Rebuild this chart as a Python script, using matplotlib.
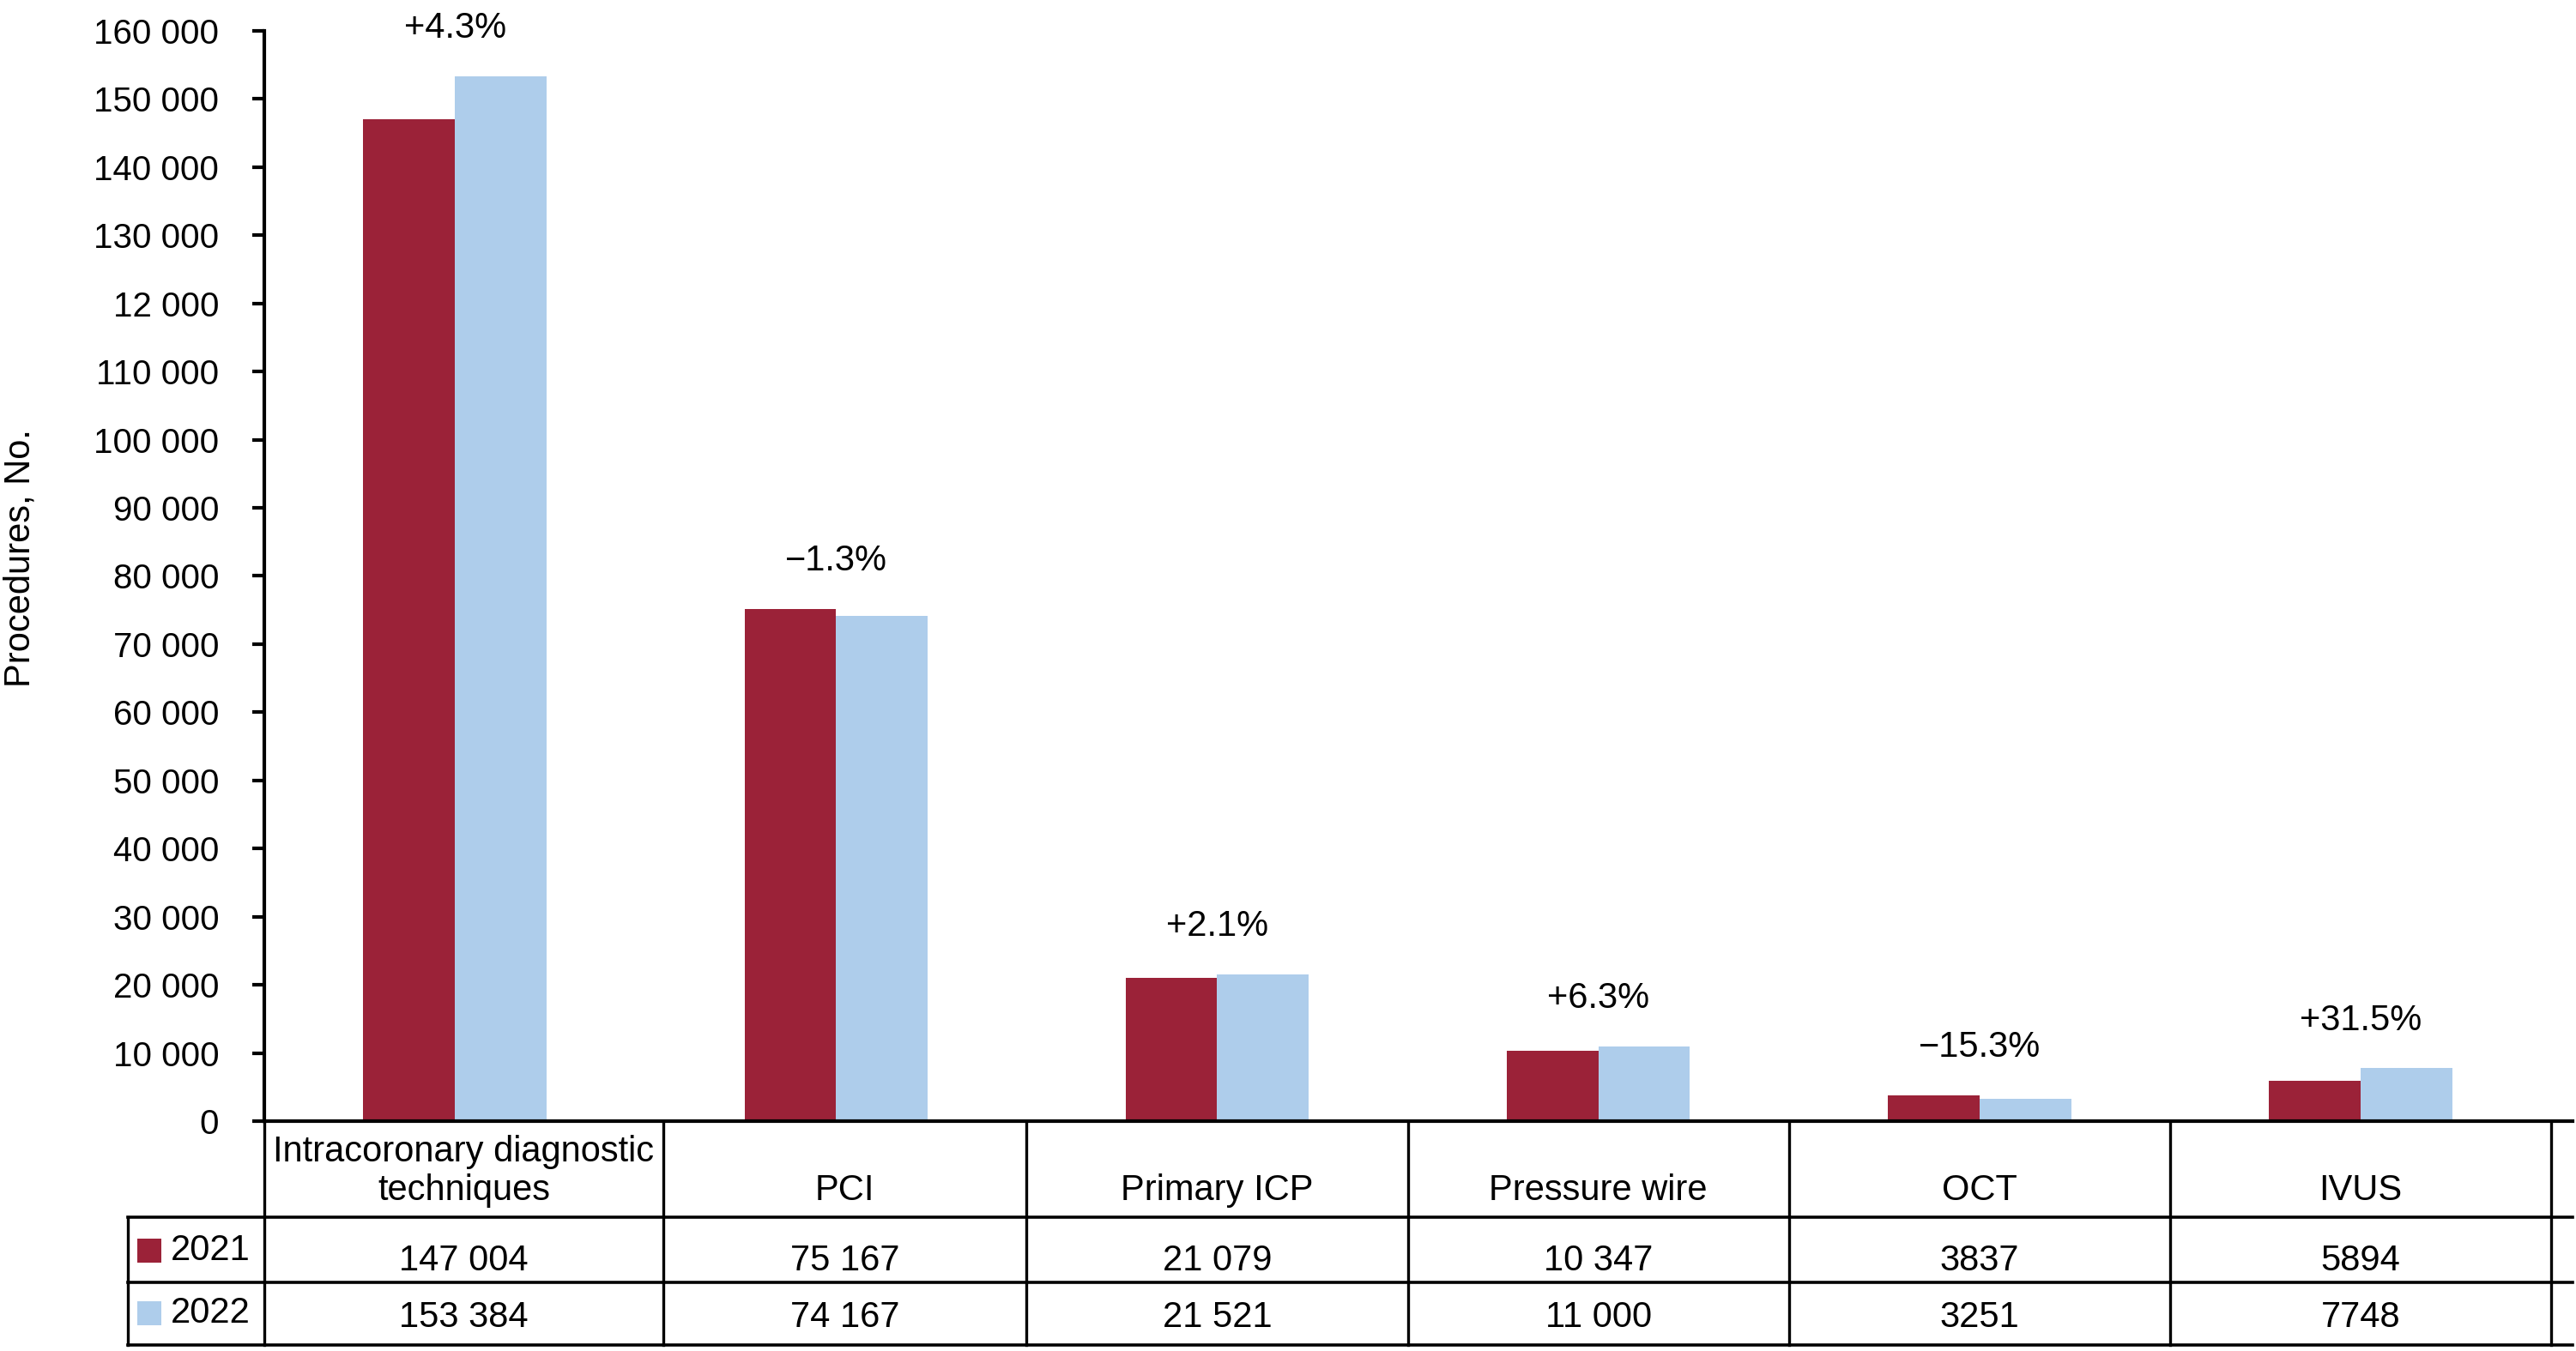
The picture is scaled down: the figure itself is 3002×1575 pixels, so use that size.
import matplotlib.pyplot as plt

# Data
categories = ['Intracoronary diagnostic\ntechniques', 'PCI', 'Primary ICP',
              'Pressure wire', 'OCT', 'IVUS']
years = ['2021', '2022']
values_2021 = [147004, 75167, 21079, 10347, 3837, 5894]
values_2022 = [153384, 74167, 21521, 11000, 3251, 7748]
cell_2021 = ['147 004', '75 167', '21 079', '10 347', '3837', '5894']
cell_2022 = ['153 384', '74 167', '21 521', '11 000', '3251', '7748']
ytick_values = list(range(0, 160001, 10000))
ytick_labels = ['0', '10 000', '20 000', '30 000', '40 000', '50 000', '60 000',
                '70 000', '80 000', '90 000', '100 000', '110 000', '12 000',
                '130 000', '140 000', '150 000', '160 000']

colors = ['#9B2238', '#AECDEB']

plt.rcParams['font.family'] = ['Liberation Sans', 'DejaVu Sans']

W, H, DPI = 3002, 1575, 200
fig = plt.figure(figsize=(W / DPI, H / DPI), dpi=DPI)

# main plot area (pixel layout of the reference)
ax_left, ax_right, ax_top, ax_bottom = 308, 2998, 36, 1307
ax = fig.add_axes([ax_left / W, 1 - ax_bottom / H,
                   (ax_right - ax_left) / W, (ax_bottom - ax_top) / H])
cat_px = 444.2
xmax = (ax_right - ax_left) / cat_px

n = len(categories)
centers = [i + 0.5 for i in range(n)]
bw = 0.24
ax.bar([c - bw / 2 for c in centers], values_2021, bw, color=colors[0], linewidth=0)
ax.bar([c + bw / 2 for c in centers], values_2022, bw, color=colors[1], linewidth=0)

# percent change labels
for c, a, b in zip(centers, values_2021, values_2022):
    pct = (b - a) / a * 100
    txt = f'{pct:+.1f}%'.replace('-', '\u2212')
    ax.text(c, max(a, b) + 7000, txt, ha='center', va='center', fontsize=15)

ax.set_xlim(0, xmax)
ax.set_ylim(0, 160000)
ax.set_yticks(ytick_values)
ax.set_yticklabels(ytick_labels, fontsize=14.5)
ax.set_xticks([])
ax.tick_params(axis='y', length=5, width=1.5, pad=14)
for s in ['top', 'right']:
    ax.spines[s].set_visible(False)
ax.spines['left'].set_linewidth(1.5)
ax.spines['bottom'].set_linewidth(1.5)

fig.text(24 / W, 1 - 651 / H, 'Procedures, No.', rotation=90,
         ha='center', va='center', fontsize=15)

# data table below the axis
tb = fig.add_axes([ax_left / W, 0, (ax_right - ax_left) / W, 1])
tb.set_xlim(0, xmax)
tb.set_ylim(H, 0)
tb.axis('off')

row_y = [ax_bottom, 1419, 1495, 1568]
col_x = [0, 1.047, 2.0, 3.0, 4.0, 5.0, 6.0]
lab_left = (149 - ax_left) / cat_px

for y in row_y[1:]:
    tb.plot([lab_left, xmax], [y, y], color='black', lw=1.3, clip_on=False)
for x in col_x:
    tb.plot([x, x], [row_y[0], row_y[-1]], color='black', lw=1.2, clip_on=False)
tb.plot([lab_left, lab_left], [row_y[1], row_y[-1]], color='black', lw=1.2, clip_on=False)

for i, name in enumerate(categories):
    xc = (col_x[i] + col_x[i + 1]) / 2
    tb.text(xc, 1408, name, ha='center', va='bottom', fontsize=15,
            multialignment='center', linespacing=1.15)
    tb.text(xc, 1470, cell_2021[i], ha='center', va='center', fontsize=15)
    tb.text(xc, 1536, cell_2022[i], ha='center', va='center', fontsize=15)

sq_left = (160 - ax_left) / cat_px
sq_w = 28 / cat_px
txt_left = (199 - ax_left) / cat_px
for yr, col, yc in zip(years, colors, [1458, 1531]):
    tb.add_patch(plt.Rectangle((sq_left, yc - 14), sq_w, 28, color=col,
                               clip_on=False, lw=0))
    tb.text(txt_left, yc, yr, ha='left', va='center', fontsize=15, clip_on=False)

fig.savefig('out.png', dpi=DPI)
